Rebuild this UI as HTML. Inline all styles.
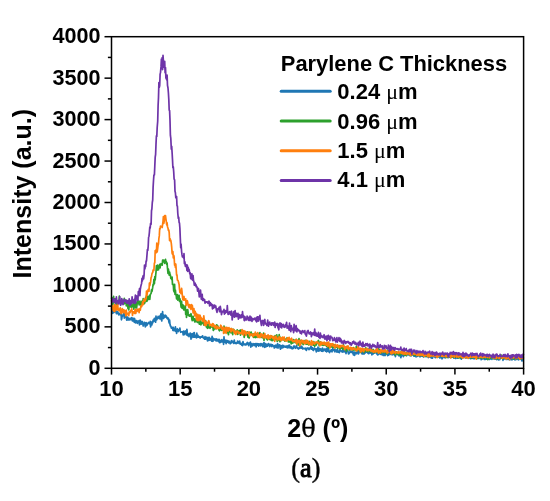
<!DOCTYPE html>
<html><head><meta charset="utf-8"><title>XRD</title>
<style>
html,body{margin:0;padding:0;background:#fff;}
svg{display:block;}
text{font-family:"Liberation Sans",sans-serif;fill:#000;}
.b20{font-size:22px;font-weight:bold;}
.b22{font-size:25px;font-weight:bold;}
.sym{font-family:"Liberation Serif",serif;font-weight:normal;}
.th{font-family:"DejaVu Serif",serif;font-weight:normal;font-size:24px;stroke:#000;stroke-width:0.3px;}
.cap{font-family:"Liberation Serif",serif;font-size:26.3px;stroke:#000;stroke-width:0.4px;}
.capa{stroke-width:0.9px;}
</style></head>
<body>
<svg width="550" height="501" viewBox="0 0 550 501">
<rect width="550" height="501" fill="#fff"/>
<polyline fill="none" stroke="#1f77b4" stroke-width="1.7" stroke-linejoin="round" points="111.5,309.6 111.9,308.8 112.3,309.9 112.7,313.3 113.1,309.2 113.6,310.2 114.0,312.3 114.4,310.3 114.8,310.9 115.2,311.2 115.6,311.9 116.0,311.1 116.4,313.7 116.9,312.8 117.3,313.6 117.7,311.7 118.1,313.0 118.5,313.8 118.9,314.9 119.3,314.1 119.7,313.8 120.2,314.5 120.6,311.7 121.0,312.5 121.4,319.8 121.8,318.4 122.2,315.4 122.6,316.0 123.0,315.0 123.5,315.2 123.9,311.9 124.3,318.1 124.7,316.9 125.1,312.6 125.5,315.4 125.9,315.6 126.3,317.9 126.7,320.2 127.2,317.0 127.6,317.3 128.0,320.0 128.4,319.1 128.8,318.2 129.2,320.0 129.6,318.6 130.0,318.4 130.5,318.7 130.9,319.8 131.3,318.0 131.7,317.6 132.1,318.8 132.5,321.0 132.9,318.4 133.3,320.8 133.8,318.4 134.2,322.1 134.6,318.7 135.0,320.5 135.4,322.9 135.8,321.4 136.2,320.8 136.6,320.6 137.1,323.0 137.5,323.3 137.9,321.2 138.3,322.5 138.7,321.4 139.1,320.6 139.5,325.0 139.9,321.8 140.3,320.2 140.8,323.0 141.2,324.1 141.6,321.5 142.0,322.5 142.4,321.6 142.8,323.9 143.2,326.0 143.6,323.7 144.1,324.4 144.5,322.4 144.9,323.6 145.3,326.8 145.7,326.1 146.1,322.6 146.5,323.0 146.9,325.3 147.4,324.2 147.8,323.4 148.2,323.3 148.6,322.5 149.0,323.4 149.4,323.8 149.8,323.9 150.2,321.4 150.6,327.0 151.1,323.1 151.5,322.5 151.9,324.9 152.3,321.5 152.7,323.0 153.1,320.1 153.5,321.5 153.9,319.8 154.4,318.4 154.8,319.6 155.2,321.4 155.6,322.2 156.0,316.0 156.4,319.0 156.8,319.8 157.2,318.0 157.7,318.4 158.1,316.3 158.5,317.5 158.9,317.4 159.3,318.5 159.7,316.1 160.1,318.8 160.5,315.5 161.0,313.8 161.4,319.4 161.8,321.0 162.2,315.2 162.6,311.5 163.0,318.1 163.4,318.5 163.8,315.0 164.2,317.6 164.7,317.0 165.1,316.8 165.5,315.2 165.9,317.1 166.3,316.0 166.7,317.0 167.1,318.5 167.5,317.7 168.0,319.2 168.4,318.2 168.8,321.5 169.2,323.0 169.6,320.2 170.0,324.5 170.4,325.9 170.8,326.0 171.3,328.1 171.7,328.1 172.1,327.3 172.5,327.8 172.9,330.4 173.3,327.3 173.7,329.8 174.1,330.7 174.6,330.6 175.0,329.9 175.4,326.8 175.8,331.5 176.2,329.5 176.6,333.3 177.0,330.0 177.4,328.7 177.8,330.7 178.3,331.5 178.7,330.3 179.1,329.7 179.5,329.9 179.9,328.0 180.3,330.9 180.7,332.3 181.1,331.8 181.6,331.8 182.0,331.7 182.4,332.0 182.8,331.9 183.2,334.9 183.6,331.1 184.0,333.4 184.4,334.5 184.9,331.9 185.3,331.0 185.7,332.4 186.1,333.1 186.5,334.9 186.9,329.3 187.3,332.5 187.7,335.7 188.2,335.3 188.6,334.1 189.0,336.7 189.4,334.3 189.8,335.4 190.2,333.0 190.6,333.5 191.0,339.1 191.4,335.0 191.9,337.6 192.3,333.6 192.7,335.1 193.1,334.6 193.5,337.1 193.9,332.8 194.3,332.6 194.7,337.2 195.2,335.2 195.6,336.8 196.0,335.9 196.4,337.8 196.8,333.2 197.2,337.4 197.6,336.5 198.0,335.4 198.5,337.1 198.9,336.6 199.3,337.1 199.7,336.6 200.1,338.1 200.5,337.1 200.9,336.9 201.3,337.2 201.7,336.7 202.2,337.3 202.6,335.8 203.0,337.5 203.4,337.3 203.8,338.2 204.2,338.1 204.6,339.2 205.0,336.7 205.5,339.2 205.9,338.7 206.3,337.2 206.7,337.3 207.1,338.5 207.5,340.9 207.9,337.5 208.3,337.8 208.8,340.3 209.2,337.3 209.6,339.4 210.0,340.1 210.4,338.5 210.8,338.9 211.2,338.5 211.6,341.1 212.1,336.4 212.5,339.9 212.9,341.3 213.3,338.3 213.7,339.8 214.1,338.9 214.5,339.9 214.9,339.6 215.3,339.2 215.8,340.7 216.2,338.8 216.6,340.4 217.0,341.1 217.4,339.8 217.8,339.4 218.2,340.4 218.6,341.3 219.1,339.4 219.5,342.7 219.9,341.8 220.3,340.4 220.7,342.3 221.1,340.5 221.5,340.7 221.9,339.5 222.4,342.0 222.8,341.7 223.2,340.4 223.6,344.3 224.0,336.8 224.4,342.0 224.8,342.1 225.2,340.0 225.7,341.3 226.1,343.7 226.5,340.5 226.9,340.3 227.3,342.1 227.7,341.9 228.1,341.0 228.5,342.9 228.9,341.2 229.4,341.5 229.8,342.8 230.2,343.8 230.6,342.3 231.0,343.2 231.4,340.7 231.8,341.9 232.2,341.1 232.7,342.1 233.1,341.9 233.5,343.4 233.9,341.5 234.3,340.1 234.7,342.9 235.1,343.3 235.5,342.8 236.0,343.3 236.4,343.6 236.8,342.6 237.2,343.2 237.6,341.0 238.0,342.9 238.4,342.5 238.8,341.7 239.3,343.4 239.7,341.2 240.1,343.9 240.5,344.2 240.9,343.7 241.3,343.4 241.7,345.1 242.1,343.4 242.5,345.6 243.0,341.6 243.4,343.6 243.8,344.4 244.2,344.7 244.6,344.1 245.0,343.9 245.4,345.0 245.8,344.9 246.3,344.0 246.7,344.5 247.1,342.7 247.5,342.4 247.9,343.9 248.3,343.4 248.7,345.7 249.1,343.2 249.6,344.1 250.0,343.5 250.4,342.1 250.8,347.1 251.2,343.9 251.6,345.7 252.0,343.6 252.4,346.0 252.9,345.0 253.3,344.2 253.7,343.7 254.1,344.4 254.5,345.5 254.9,345.3 255.3,343.5 255.7,344.6 256.1,346.8 256.6,343.6 257.0,344.2 257.4,343.6 257.8,345.2 258.2,343.8 258.6,346.2 259.0,344.1 259.4,345.5 259.9,344.1 260.3,343.7 260.7,345.9 261.1,345.1 261.5,345.0 261.9,343.6 262.3,344.2 262.7,346.6 263.2,344.6 263.6,344.2 264.0,342.5 264.4,347.3 264.8,345.9 265.2,343.6 265.6,347.0 266.0,346.8 266.4,344.7 266.9,344.1 267.3,346.2 267.7,344.7 268.1,345.3 268.5,343.6 268.9,345.5 269.3,344.3 269.7,346.7 270.2,345.8 270.6,345.7 271.0,344.2 271.4,345.0 271.8,346.6 272.2,344.9 272.6,344.8 273.0,345.9 273.5,346.1 273.9,346.1 274.3,348.0 274.7,345.7 275.1,345.7 275.5,347.0 275.9,345.1 276.3,347.7 276.8,346.8 277.2,346.7 277.6,343.7 278.0,348.1 278.4,345.5 278.8,345.1 279.2,345.8 279.6,344.9 280.0,347.6 280.5,349.2 280.9,345.5 281.3,347.9 281.7,346.9 282.1,348.0 282.5,345.3 282.9,345.6 283.3,347.5 283.8,345.6 284.2,346.6 284.6,346.9 285.0,346.7 285.4,347.1 285.8,346.1 286.2,346.5 286.6,347.4 287.1,345.8 287.5,347.8 287.9,346.7 288.3,346.6 288.7,345.4 289.1,347.8 289.5,345.1 289.9,347.0 290.4,347.5 290.8,348.1 291.2,346.7 291.6,347.3 292.0,348.7 292.4,348.8 292.8,348.2 293.2,348.4 293.6,346.3 294.1,346.0 294.5,346.6 294.9,347.3 295.3,348.3 295.7,347.7 296.1,346.8 296.5,345.4 296.9,346.8 297.4,348.3 297.8,347.9 298.2,348.6 298.6,349.0 299.0,348.3 299.4,347.9 299.8,346.0 300.2,348.1 300.7,346.6 301.1,346.2 301.5,348.2 301.9,346.5 302.3,347.5 302.7,348.9 303.1,348.1 303.5,348.4 304.0,348.7 304.4,348.7 304.8,348.4 305.2,348.1 305.6,349.6 306.0,348.6 306.4,350.4 306.8,348.4 307.2,348.0 307.7,348.6 308.1,348.4 308.5,348.1 308.9,349.6 309.3,349.1 309.7,348.3 310.1,347.8 310.5,348.5 311.0,346.1 311.4,349.1 311.8,347.9 312.2,347.6 312.6,349.2 313.0,350.1 313.4,350.5 313.8,349.0 314.3,348.0 314.7,348.9 315.1,349.1 315.5,349.7 315.9,348.7 316.3,351.8 316.7,349.1 317.1,349.4 317.5,351.0 318.0,347.0 318.4,351.1 318.8,350.8 319.2,350.9 319.6,348.4 320.0,350.6 320.4,348.9 320.8,349.0 321.3,349.4 321.7,351.2 322.1,350.5 322.5,348.0 322.9,351.3 323.3,350.8 323.7,350.1 324.1,349.1 324.6,349.7 325.0,349.2 325.4,351.2 325.8,349.0 326.2,349.5 326.6,351.9 327.0,348.5 327.4,347.7 327.9,351.1 328.3,350.2 328.7,348.8 329.1,352.0 329.5,352.6 329.9,351.8 330.3,351.1 330.7,351.1 331.1,349.8 331.6,350.2 332.0,351.9 332.4,350.0 332.8,348.6 333.2,349.4 333.6,349.6 334.0,350.7 334.4,349.7 334.9,351.8 335.3,350.0 335.7,350.9 336.1,349.7 336.5,350.4 336.9,352.1 337.3,350.8 337.7,349.7 338.2,352.2 338.6,351.7 339.0,351.9 339.4,352.7 339.8,350.1 340.2,349.8 340.6,350.4 341.0,351.0 341.5,351.3 341.9,351.1 342.3,352.1 342.7,350.4 343.1,350.3 343.5,350.4 343.9,352.0 344.3,351.4 344.7,351.7 345.2,349.7 345.6,351.4 346.0,353.6 346.4,351.2 346.8,349.7 347.2,351.0 347.6,350.8 348.0,351.7 348.5,353.9 348.9,353.7 349.3,353.1 349.7,352.0 350.1,351.6 350.5,351.2 350.9,352.3 351.3,351.0 351.8,352.3 352.2,352.8 352.6,351.1 353.0,353.0 353.4,354.9 353.8,353.2 354.2,352.0 354.6,355.4 355.1,352.5 355.5,352.5 355.9,353.7 356.3,353.8 356.7,352.7 357.1,352.8 357.5,351.0 357.9,351.9 358.3,354.0 358.8,353.2 359.2,351.6 359.6,350.4 360.0,352.0 360.4,352.1 360.8,350.5 361.2,352.5 361.6,352.8 362.1,353.9 362.5,353.0 362.9,350.3 363.3,354.0 363.7,352.5 364.1,354.0 364.5,352.4 364.9,351.7 365.4,352.9 365.8,351.9 366.2,351.9 366.6,352.2 367.0,350.9 367.4,351.9 367.8,353.0 368.2,353.4 368.7,353.6 369.1,352.3 369.5,353.1 369.9,350.0 370.3,350.9 370.7,353.0 371.1,353.2 371.5,351.1 371.9,354.8 372.4,353.3 372.8,351.9 373.2,353.8 373.6,353.4 374.0,353.3 374.4,352.3 374.8,352.8 375.2,352.6 375.7,352.4 376.1,353.0 376.5,351.9 376.9,353.8 377.3,354.5 377.7,354.9 378.1,354.7 378.5,353.7 379.0,352.1 379.4,353.0 379.8,353.8 380.2,354.3 380.6,353.7 381.0,353.6 381.4,353.8 381.8,354.7 382.2,353.7 382.7,352.2 383.1,355.5 383.5,353.5 383.9,355.4 384.3,353.2 384.7,354.1 385.1,355.5 385.5,353.3 386.0,351.6 386.4,353.3 386.8,352.3 387.2,353.5 387.6,355.6 388.0,353.0 388.4,353.9 388.8,355.0 389.3,352.8 389.7,353.3 390.1,354.1 390.5,352.8 390.9,354.5 391.3,353.0 391.7,354.6 392.1,353.2 392.6,354.8 393.0,352.3 393.4,353.5 393.8,352.4 394.2,354.6 394.6,354.3 395.0,353.1 395.4,356.6 395.8,355.0 396.3,353.0 396.7,353.5 397.1,353.1 397.5,354.3 397.9,353.5 398.3,354.8 398.7,355.5 399.1,355.8 399.6,354.7 400.0,354.7 400.4,354.8 400.8,357.7 401.2,356.2 401.6,354.8 402.0,354.1 402.4,354.9 402.9,355.2 403.3,356.6 403.7,352.5 404.1,355.5 404.5,352.9 404.9,353.0 405.3,354.3 405.7,355.1 406.2,354.5 406.6,355.7 407.0,354.4 407.4,354.7 407.8,354.2 408.2,353.8 408.6,353.1 409.0,355.2 409.4,353.8 409.9,355.6 410.3,355.7 410.7,355.5 411.1,355.8 411.5,354.0 411.9,354.1 412.3,353.8 412.7,355.0 413.2,354.8 413.6,355.6 414.0,356.2 414.4,354.7 414.8,354.9 415.2,356.2 415.6,354.7 416.0,356.9 416.5,355.4 416.9,355.9 417.3,355.8 417.7,356.3 418.1,354.5 418.5,354.8 418.9,354.3 419.3,355.3 419.8,356.7 420.2,355.8 420.6,356.6 421.0,355.1 421.4,354.4 421.8,355.3 422.2,356.2 422.6,356.0 423.0,355.5 423.5,357.0 423.9,355.6 424.3,355.5 424.7,356.2 425.1,356.1 425.5,355.6 425.9,356.6 426.3,356.6 426.8,355.1 427.2,355.7 427.6,354.4 428.0,356.8 428.4,357.6 428.8,355.1 429.2,355.1 429.6,356.7 430.1,357.3 430.5,356.1 430.9,357.6 431.3,356.4 431.7,358.1 432.1,356.3 432.5,358.1 432.9,356.4 433.4,354.8 433.8,356.4 434.2,355.5 434.6,356.8 435.0,357.1 435.4,357.6 435.8,355.4 436.2,356.4 436.6,354.9 437.1,357.4 437.5,356.6 437.9,356.3 438.3,355.1 438.7,354.8 439.1,357.0 439.5,357.5 439.9,358.0 440.4,355.3 440.8,356.6 441.2,357.1 441.6,356.6 442.0,358.8 442.4,358.1 442.8,355.8 443.2,356.3 443.7,356.5 444.1,357.5 444.5,356.2 444.9,355.1 445.3,357.8 445.7,356.7 446.1,357.1 446.5,356.4 446.9,356.8 447.4,356.9 447.8,357.6 448.2,356.8 448.6,357.4 449.0,357.0 449.4,356.9 449.8,356.3 450.2,357.4 450.7,357.2 451.1,356.0 451.5,357.1 451.9,357.2 452.3,356.2 452.7,356.8 453.1,356.9 453.5,356.8 454.0,358.1 454.4,356.7 454.8,355.9 455.2,356.6 455.6,358.5 456.0,356.9 456.4,357.9 456.8,357.3 457.3,357.1 457.7,358.2 458.1,356.0 458.5,357.3 458.9,356.5 459.3,356.7 459.7,356.1 460.1,356.2 460.5,358.5 461.0,357.3 461.4,359.1 461.8,357.7 462.2,356.7 462.6,356.6 463.0,356.3 463.4,357.7 463.8,357.1 464.3,357.3 464.7,356.3 465.1,356.1 465.5,357.8 465.9,354.2 466.3,357.5 466.7,357.8 467.1,357.0 467.6,356.9 468.0,357.1 468.4,358.1 468.8,356.3 469.2,357.5 469.6,356.3 470.0,356.4 470.4,358.7 470.9,358.4 471.3,358.5 471.7,357.4 472.1,357.6 472.5,357.4 472.9,358.4 473.3,357.3 473.7,356.5 474.1,358.8 474.6,357.9 475.0,357.5 475.4,357.9 475.8,357.9 476.2,356.3 476.6,356.7 477.0,357.1 477.4,358.5 477.9,356.0 478.3,357.6 478.7,358.4 479.1,358.2 479.5,358.3 479.9,356.1 480.3,357.7 480.7,357.9 481.2,359.7 481.6,357.3 482.0,358.9 482.4,358.9 482.8,357.5 483.2,358.7 483.6,357.3 484.0,357.1 484.5,359.5 484.9,358.2 485.3,359.4 485.7,358.1 486.1,357.3 486.5,359.2 486.9,356.6 487.3,358.4 487.7,359.1 488.2,358.3 488.6,357.5 489.0,359.3 489.4,358.2 489.8,359.3 490.2,357.2 490.6,358.1 491.0,358.6 491.5,357.4 491.9,359.3 492.3,358.6 492.7,356.8 493.1,358.4 493.5,357.2 493.9,358.2 494.3,358.9 494.8,358.6 495.2,358.3 495.6,358.7 496.0,359.1 496.4,359.1 496.8,359.6 497.2,358.4 497.6,358.1 498.0,357.9 498.5,359.9 498.9,357.8 499.3,358.5 499.7,359.7 500.1,358.4 500.5,357.9 500.9,358.1 501.3,358.0 501.8,357.8 502.2,357.9 502.6,358.6 503.0,360.3 503.4,359.2 503.8,358.3 504.2,359.0 504.6,358.1 505.1,358.0 505.5,358.6 505.9,357.2 506.3,359.5 506.7,358.0 507.1,359.1 507.5,359.3 507.9,358.3 508.4,359.2 508.8,358.1 509.2,359.7 509.6,358.7 510.0,359.5 510.4,359.0 510.8,359.1 511.2,359.7 511.6,358.3 512.1,359.8 512.5,359.6 512.9,358.2 513.3,358.1 513.7,358.3 514.1,358.6 514.5,357.1 514.9,359.9 515.4,359.5 515.8,359.7 516.2,358.2 516.6,358.7 517.0,358.1 517.4,358.2 517.8,359.2 518.2,359.6 518.7,359.8 519.1,357.3 519.5,358.3 519.9,358.6 520.3,359.3 520.7,359.2 521.1,359.3 521.5,359.3 522.0,361.0 522.4,359.1 522.8,359.4 523.2,358.9 523.6,358.9"/>
<polyline fill="none" stroke="#2ca02c" stroke-width="1.7" stroke-linejoin="round" points="111.5,297.7 111.9,299.7 112.3,298.0 112.7,305.3 113.1,302.3 113.6,296.3 114.0,302.7 114.4,300.8 114.8,298.8 115.2,302.3 115.6,299.0 116.0,303.7 116.4,304.8 116.9,303.6 117.3,304.4 117.7,301.1 118.1,301.8 118.5,300.5 118.9,303.5 119.3,296.0 119.7,301.7 120.2,301.7 120.6,300.8 121.0,302.3 121.4,303.2 121.8,301.8 122.2,300.2 122.6,300.8 123.0,300.3 123.5,303.6 123.9,304.1 124.3,298.4 124.7,303.2 125.1,301.8 125.5,301.4 125.9,300.0 126.3,305.9 126.7,304.2 127.2,304.3 127.6,304.1 128.0,308.6 128.4,303.9 128.8,309.9 129.2,303.4 129.6,303.0 130.0,303.0 130.5,306.8 130.9,302.4 131.3,306.3 131.7,307.1 132.1,306.7 132.5,306.5 132.9,304.5 133.3,303.2 133.8,309.2 134.2,306.0 134.6,303.0 135.0,304.4 135.4,303.8 135.8,307.9 136.2,302.7 136.6,307.8 137.1,304.1 137.5,301.5 137.9,300.3 138.3,303.0 138.7,302.1 139.1,305.0 139.5,304.6 139.9,301.0 140.3,303.2 140.8,303.3 141.2,305.8 141.6,302.4 142.0,301.2 142.4,304.0 142.8,303.2 143.2,298.6 143.6,301.3 144.1,302.1 144.5,303.6 144.9,302.3 145.3,301.2 145.7,297.4 146.1,301.3 146.5,295.8 146.9,301.3 147.4,299.7 147.8,296.7 148.2,298.6 148.6,299.4 149.0,297.3 149.4,295.4 149.8,299.4 150.2,295.3 150.6,294.0 151.1,293.5 151.5,289.8 151.9,291.5 152.3,289.7 152.7,287.4 153.1,284.3 153.5,285.0 153.9,279.3 154.4,283.6 154.8,276.7 155.2,280.0 155.6,275.9 156.0,272.1 156.4,265.7 156.8,267.3 157.2,270.1 157.7,265.2 158.1,268.7 158.5,269.8 158.9,266.3 159.3,266.9 159.7,264.4 160.1,267.9 160.5,265.0 161.0,263.7 161.4,264.0 161.8,264.1 162.2,265.2 162.6,260.2 163.0,261.6 163.4,260.0 163.8,261.9 164.2,260.6 164.7,263.3 165.1,260.6 165.5,259.4 165.9,262.3 166.3,261.5 166.7,264.4 167.1,263.1 167.5,268.5 168.0,273.4 168.4,269.2 168.8,271.9 169.2,275.2 169.6,272.2 170.0,274.4 170.4,275.2 170.8,278.4 171.3,278.3 171.7,279.4 172.1,277.1 172.5,284.4 172.9,284.1 173.3,284.6 173.7,290.8 174.1,291.8 174.6,284.3 175.0,294.5 175.4,290.2 175.8,294.5 176.2,295.3 176.6,298.9 177.0,297.4 177.4,294.6 177.8,300.2 178.3,296.7 178.7,298.1 179.1,295.3 179.5,301.5 179.9,298.6 180.3,300.2 180.7,303.5 181.1,307.2 181.6,301.4 182.0,308.1 182.4,307.0 182.8,304.9 183.2,305.2 183.6,309.8 184.0,308.8 184.4,309.9 184.9,307.6 185.3,305.5 185.7,314.5 186.1,309.6 186.5,317.5 186.9,312.4 187.3,315.0 187.7,309.5 188.2,313.4 188.6,315.6 189.0,315.5 189.4,316.1 189.8,315.0 190.2,316.1 190.6,314.9 191.0,313.7 191.4,315.6 191.9,319.5 192.3,320.6 192.7,319.3 193.1,316.3 193.5,319.2 193.9,320.1 194.3,318.9 194.7,322.0 195.2,321.8 195.6,319.1 196.0,320.8 196.4,321.4 196.8,320.2 197.2,322.1 197.6,322.5 198.0,322.3 198.5,320.6 198.9,321.8 199.3,324.2 199.7,322.8 200.1,321.4 200.5,319.4 200.9,324.9 201.3,322.5 201.7,323.7 202.2,322.0 202.6,322.8 203.0,321.2 203.4,323.0 203.8,325.0 204.2,325.2 204.6,323.7 205.0,323.9 205.5,320.6 205.9,322.0 206.3,327.0 206.7,324.6 207.1,327.6 207.5,328.3 207.9,324.4 208.3,324.8 208.8,327.7 209.2,323.3 209.6,327.8 210.0,328.3 210.4,325.4 210.8,326.2 211.2,327.0 211.6,327.0 212.1,326.6 212.5,327.3 212.9,327.5 213.3,330.5 213.7,329.7 214.1,326.6 214.5,328.9 214.9,326.9 215.3,325.9 215.8,328.6 216.2,327.7 216.6,324.8 217.0,327.2 217.4,325.4 217.8,326.1 218.2,327.4 218.6,328.9 219.1,330.2 219.5,330.8 219.9,328.3 220.3,328.4 220.7,329.5 221.1,328.0 221.5,330.4 221.9,327.7 222.4,329.5 222.8,329.8 223.2,329.8 223.6,330.0 224.0,326.0 224.4,332.6 224.8,329.9 225.2,328.2 225.7,329.2 226.1,330.9 226.5,327.7 226.9,332.3 227.3,332.7 227.7,329.8 228.1,333.1 228.5,334.7 228.9,329.6 229.4,329.8 229.8,330.0 230.2,332.0 230.6,331.0 231.0,332.9 231.4,328.7 231.8,330.2 232.2,330.4 232.7,334.7 233.1,330.4 233.5,329.4 233.9,329.9 234.3,330.7 234.7,332.0 235.1,332.6 235.5,331.2 236.0,331.6 236.4,331.9 236.8,332.8 237.2,329.8 237.6,334.3 238.0,332.6 238.4,333.5 238.8,331.1 239.3,330.5 239.7,330.9 240.1,331.7 240.5,335.1 240.9,329.8 241.3,332.3 241.7,333.3 242.1,333.2 242.5,333.8 243.0,332.7 243.4,332.9 243.8,334.0 244.2,337.5 244.6,333.7 245.0,332.9 245.4,332.9 245.8,334.0 246.3,333.2 246.7,332.4 247.1,334.7 247.5,331.8 247.9,337.1 248.3,336.1 248.7,335.6 249.1,338.0 249.6,335.9 250.0,332.6 250.4,332.6 250.8,334.4 251.2,332.1 251.6,334.3 252.0,335.5 252.4,334.5 252.9,335.1 253.3,333.9 253.7,337.3 254.1,333.6 254.5,335.8 254.9,334.0 255.3,337.6 255.7,336.0 256.1,335.3 256.6,334.2 257.0,337.4 257.4,333.2 257.8,335.0 258.2,336.5 258.6,334.0 259.0,335.7 259.4,334.3 259.9,332.6 260.3,335.0 260.7,336.9 261.1,336.9 261.5,335.5 261.9,336.0 262.3,337.7 262.7,337.5 263.2,335.6 263.6,333.2 264.0,340.5 264.4,335.7 264.8,337.1 265.2,335.8 265.6,335.7 266.0,337.0 266.4,338.6 266.9,339.2 267.3,339.9 267.7,335.5 268.1,337.7 268.5,338.2 268.9,337.9 269.3,339.5 269.7,337.2 270.2,335.8 270.6,336.1 271.0,340.1 271.4,335.9 271.8,339.0 272.2,340.7 272.6,339.8 273.0,339.5 273.5,338.2 273.9,339.7 274.3,340.4 274.7,338.7 275.1,335.7 275.5,339.5 275.9,337.9 276.3,338.5 276.8,334.9 277.2,341.4 277.6,337.2 278.0,340.6 278.4,339.7 278.8,339.1 279.2,334.5 279.6,340.1 280.0,341.7 280.5,337.3 280.9,340.4 281.3,339.6 281.7,339.4 282.1,339.2 282.5,339.7 282.9,339.1 283.3,339.0 283.8,338.4 284.2,340.2 284.6,340.7 285.0,341.2 285.4,339.0 285.8,339.9 286.2,339.2 286.6,339.2 287.1,337.7 287.5,339.8 287.9,339.1 288.3,341.9 288.7,341.7 289.1,340.7 289.5,342.0 289.9,339.5 290.4,342.3 290.8,340.4 291.2,343.9 291.6,342.1 292.0,341.2 292.4,341.1 292.8,343.2 293.2,340.7 293.6,339.6 294.1,340.1 294.5,341.9 294.9,341.9 295.3,342.7 295.7,340.3 296.1,339.3 296.5,342.0 296.9,343.6 297.4,341.1 297.8,340.5 298.2,345.1 298.6,341.4 299.0,338.7 299.4,340.6 299.8,341.0 300.2,341.2 300.7,340.4 301.1,343.1 301.5,343.0 301.9,341.4 302.3,342.9 302.7,341.7 303.1,344.7 303.5,341.2 304.0,341.1 304.4,342.2 304.8,342.1 305.2,340.3 305.6,343.9 306.0,343.7 306.4,344.0 306.8,343.2 307.2,344.0 307.7,342.7 308.1,343.6 308.5,344.7 308.9,344.9 309.3,341.3 309.7,343.1 310.1,343.3 310.5,343.1 311.0,343.3 311.4,342.2 311.8,342.5 312.2,344.1 312.6,344.4 313.0,344.8 313.4,345.1 313.8,341.7 314.3,344.8 314.7,346.2 315.1,344.8 315.5,344.8 315.9,343.4 316.3,345.0 316.7,343.2 317.1,343.5 317.5,342.4 318.0,341.3 318.4,340.5 318.8,342.5 319.2,345.7 319.6,344.8 320.0,344.1 320.4,341.8 320.8,343.7 321.3,343.1 321.7,344.9 322.1,344.0 322.5,343.9 322.9,345.4 323.3,343.9 323.7,343.6 324.1,345.2 324.6,343.8 325.0,343.1 325.4,345.1 325.8,345.3 326.2,345.7 326.6,346.2 327.0,345.3 327.4,346.0 327.9,346.0 328.3,346.6 328.7,347.6 329.1,346.9 329.5,345.4 329.9,347.3 330.3,346.7 330.7,344.0 331.1,344.7 331.6,347.0 332.0,345.5 332.4,347.1 332.8,344.3 333.2,347.1 333.6,346.4 334.0,344.8 334.4,347.6 334.9,345.1 335.3,347.7 335.7,346.5 336.1,347.2 336.5,347.0 336.9,346.7 337.3,347.1 337.7,348.3 338.2,346.1 338.6,346.3 339.0,345.7 339.4,345.6 339.8,348.9 340.2,345.9 340.6,345.9 341.0,348.1 341.5,346.3 341.9,345.9 342.3,348.3 342.7,349.3 343.1,348.2 343.5,344.5 343.9,347.6 344.3,349.3 344.7,348.3 345.2,349.2 345.6,348.5 346.0,348.0 346.4,351.1 346.8,347.8 347.2,346.6 347.6,348.5 348.0,348.8 348.5,347.1 348.9,349.9 349.3,349.9 349.7,350.1 350.1,348.7 350.5,348.2 350.9,348.8 351.3,348.1 351.8,347.8 352.2,348.2 352.6,349.7 353.0,349.2 353.4,347.5 353.8,350.1 354.2,349.3 354.6,349.5 355.1,349.3 355.5,350.3 355.9,350.7 356.3,346.3 356.7,348.2 357.1,350.1 357.5,349.4 357.9,348.6 358.3,349.8 358.8,348.8 359.2,350.2 359.6,349.9 360.0,349.7 360.4,350.1 360.8,352.4 361.2,349.7 361.6,349.4 362.1,349.2 362.5,350.9 362.9,349.5 363.3,349.7 363.7,351.9 364.1,352.4 364.5,349.5 364.9,351.1 365.4,349.0 365.8,347.8 366.2,350.8 366.6,351.0 367.0,350.3 367.4,349.5 367.8,351.6 368.2,349.0 368.7,349.3 369.1,349.7 369.5,351.1 369.9,349.5 370.3,349.6 370.7,351.9 371.1,348.3 371.5,351.0 371.9,350.3 372.4,351.3 372.8,350.3 373.2,349.5 373.6,351.7 374.0,352.7 374.4,351.4 374.8,352.3 375.2,351.8 375.7,351.1 376.1,351.1 376.5,349.7 376.9,352.2 377.3,350.8 377.7,351.7 378.1,349.8 378.5,348.6 379.0,351.0 379.4,349.5 379.8,351.9 380.2,353.1 380.6,352.8 381.0,353.1 381.4,352.5 381.8,351.8 382.2,350.4 382.7,350.9 383.1,351.1 383.5,352.1 383.9,352.5 384.3,351.7 384.7,351.6 385.1,351.5 385.5,351.5 386.0,352.0 386.4,353.9 386.8,353.1 387.2,352.8 387.6,350.2 388.0,352.5 388.4,351.4 388.8,350.6 389.3,351.8 389.7,352.6 390.1,352.5 390.5,353.3 390.9,352.0 391.3,351.2 391.7,351.8 392.1,351.6 392.6,351.7 393.0,350.4 393.4,353.2 393.8,352.4 394.2,351.8 394.6,351.3 395.0,355.1 395.4,353.2 395.8,352.9 396.3,353.8 396.7,351.9 397.1,352.6 397.5,353.3 397.9,354.5 398.3,354.3 398.7,354.0 399.1,352.5 399.6,354.3 400.0,355.2 400.4,354.6 400.8,353.7 401.2,351.5 401.6,350.7 402.0,353.7 402.4,352.3 402.9,351.9 403.3,352.0 403.7,353.5 404.1,354.7 404.5,353.9 404.9,355.3 405.3,353.3 405.7,352.8 406.2,355.5 406.6,353.7 407.0,353.3 407.4,352.4 407.8,352.3 408.2,352.9 408.6,354.4 409.0,354.2 409.4,352.6 409.9,354.5 410.3,353.9 410.7,352.4 411.1,353.8 411.5,355.3 411.9,354.3 412.3,353.4 412.7,354.3 413.2,353.0 413.6,352.9 414.0,354.8 414.4,354.7 414.8,354.3 415.2,355.4 415.6,353.9 416.0,354.5 416.5,353.6 416.9,355.0 417.3,355.3 417.7,352.7 418.1,355.3 418.5,355.1 418.9,355.2 419.3,354.8 419.8,355.5 420.2,354.6 420.6,355.3 421.0,355.1 421.4,354.3 421.8,354.0 422.2,354.3 422.6,355.5 423.0,354.4 423.5,354.9 423.9,354.9 424.3,356.5 424.7,354.2 425.1,355.0 425.5,353.3 425.9,354.3 426.3,356.0 426.8,356.3 427.2,353.9 427.6,355.9 428.0,354.4 428.4,355.4 428.8,353.1 429.2,355.1 429.6,353.7 430.1,353.9 430.5,355.6 430.9,355.5 431.3,353.8 431.7,355.2 432.1,356.1 432.5,354.2 432.9,352.9 433.4,355.4 433.8,354.0 434.2,355.5 434.6,354.1 435.0,355.6 435.4,354.2 435.8,354.9 436.2,355.6 436.6,355.2 437.1,356.0 437.5,356.5 437.9,356.5 438.3,355.6 438.7,356.5 439.1,355.1 439.5,355.1 439.9,355.2 440.4,356.1 440.8,355.6 441.2,355.7 441.6,354.4 442.0,356.4 442.4,356.0 442.8,355.9 443.2,355.9 443.7,356.4 444.1,356.3 444.5,354.8 444.9,356.4 445.3,355.0 445.7,354.0 446.1,354.7 446.5,357.5 446.9,355.2 447.4,355.5 447.8,355.4 448.2,357.4 448.6,355.2 449.0,356.9 449.4,354.8 449.8,355.0 450.2,353.7 450.7,356.4 451.1,357.4 451.5,355.1 451.9,355.3 452.3,356.4 452.7,354.9 453.1,355.5 453.5,357.3 454.0,356.5 454.4,356.6 454.8,356.3 455.2,356.0 455.6,356.8 456.0,356.4 456.4,355.7 456.8,356.3 457.3,356.5 457.7,356.6 458.1,356.4 458.5,358.0 458.9,356.2 459.3,357.3 459.7,356.3 460.1,357.7 460.5,355.6 461.0,356.2 461.4,357.6 461.8,356.2 462.2,357.1 462.6,354.8 463.0,356.0 463.4,357.2 463.8,356.3 464.3,356.5 464.7,355.5 465.1,356.2 465.5,356.1 465.9,357.5 466.3,355.9 466.7,354.7 467.1,356.0 467.6,356.6 468.0,356.5 468.4,357.5 468.8,356.5 469.2,357.6 469.6,356.6 470.0,357.0 470.4,357.4 470.9,356.2 471.3,358.0 471.7,356.8 472.1,357.9 472.5,355.1 472.9,355.0 473.3,356.0 473.7,355.1 474.1,356.3 474.6,356.3 475.0,357.2 475.4,357.6 475.8,356.7 476.2,357.3 476.6,357.3 477.0,356.2 477.4,357.0 477.9,358.3 478.3,357.1 478.7,357.6 479.1,357.2 479.5,357.9 479.9,355.9 480.3,355.3 480.7,358.0 481.2,356.4 481.6,356.5 482.0,358.0 482.4,357.0 482.8,355.8 483.2,356.3 483.6,355.7 484.0,358.1 484.5,357.7 484.9,356.9 485.3,356.8 485.7,357.1 486.1,357.5 486.5,357.5 486.9,357.7 487.3,356.8 487.7,359.6 488.2,355.8 488.6,357.7 489.0,358.5 489.4,356.8 489.8,358.5 490.2,356.9 490.6,357.6 491.0,356.8 491.5,356.6 491.9,356.2 492.3,357.8 492.7,357.6 493.1,357.4 493.5,358.6 493.9,356.9 494.3,357.3 494.8,358.5 495.2,356.4 495.6,356.3 496.0,358.6 496.4,357.0 496.8,356.4 497.2,356.7 497.6,358.3 498.0,358.7 498.5,357.6 498.9,357.9 499.3,357.5 499.7,357.6 500.1,357.1 500.5,358.0 500.9,357.7 501.3,355.0 501.8,357.7 502.2,357.0 502.6,357.3 503.0,357.4 503.4,358.4 503.8,357.2 504.2,357.7 504.6,357.0 505.1,355.9 505.5,357.5 505.9,357.0 506.3,358.5 506.7,357.6 507.1,356.4 507.5,357.8 507.9,358.3 508.4,357.6 508.8,357.9 509.2,357.9 509.6,358.1 510.0,356.1 510.4,358.5 510.8,358.1 511.2,358.3 511.6,356.8 512.1,358.0 512.5,356.7 512.9,357.7 513.3,357.8 513.7,359.1 514.1,356.8 514.5,357.4 514.9,357.5 515.4,358.0 515.8,358.2 516.2,358.9 516.6,357.1 517.0,357.7 517.4,358.2 517.8,358.4 518.2,357.8 518.7,358.0 519.1,356.6 519.5,357.3 519.9,358.4 520.3,358.9 520.7,358.2 521.1,358.7 521.5,357.9 522.0,357.6 522.4,357.5 522.8,357.6 523.2,358.2 523.6,357.5"/>
<polyline fill="none" stroke="#ff7f0e" stroke-width="1.7" stroke-linejoin="round" points="111.5,308.8 111.9,307.3 112.3,305.7 112.7,306.9 113.1,310.3 113.6,310.2 114.0,311.3 114.4,304.6 114.8,311.5 115.2,308.8 115.6,305.0 116.0,306.7 116.4,306.4 116.9,310.2 117.3,307.9 117.7,303.5 118.1,309.8 118.5,309.0 118.9,310.6 119.3,310.2 119.7,309.6 120.2,307.8 120.6,312.4 121.0,313.6 121.4,311.0 121.8,310.8 122.2,308.6 122.6,310.1 123.0,312.8 123.5,310.7 123.9,309.7 124.3,311.5 124.7,312.8 125.1,310.9 125.5,313.0 125.9,316.0 126.3,310.0 126.7,315.1 127.2,313.3 127.6,313.4 128.0,313.5 128.4,313.4 128.8,315.6 129.2,311.8 129.6,312.8 130.0,312.7 130.5,310.7 130.9,310.6 131.3,310.0 131.7,308.9 132.1,311.5 132.5,315.3 132.9,311.8 133.3,312.1 133.8,311.8 134.2,313.0 134.6,313.4 135.0,310.0 135.4,309.5 135.8,313.4 136.2,310.0 136.6,311.2 137.1,311.4 137.5,309.0 137.9,310.1 138.3,310.7 138.7,309.1 139.1,312.7 139.5,309.5 139.9,308.7 140.3,310.1 140.8,306.4 141.2,305.6 141.6,306.8 142.0,305.4 142.4,303.0 142.8,301.5 143.2,304.6 143.6,301.5 144.1,299.1 144.5,300.5 144.9,301.2 145.3,300.2 145.7,298.3 146.1,298.8 146.5,291.0 146.9,295.7 147.4,292.4 147.8,291.7 148.2,289.4 148.6,290.5 149.0,291.2 149.4,283.0 149.8,285.5 150.2,283.5 150.6,281.7 151.1,277.4 151.5,276.8 151.9,274.0 152.3,272.9 152.7,272.6 153.1,270.0 153.5,269.9 153.9,270.3 154.4,263.0 154.8,262.8 155.2,250.5 155.6,251.0 156.0,249.9 156.4,252.6 156.8,243.2 157.2,251.9 157.7,248.5 158.1,245.2 158.5,243.7 158.9,238.3 159.3,235.9 159.7,228.5 160.1,229.0 160.5,226.2 161.0,226.6 161.4,226.4 161.8,226.4 162.2,227.5 162.6,224.3 163.0,221.5 163.4,216.6 163.8,223.3 164.2,221.4 164.7,215.7 165.1,219.5 165.5,215.5 165.9,218.8 166.3,221.3 166.7,224.8 167.1,222.9 167.5,226.7 168.0,228.2 168.4,230.3 168.8,230.0 169.2,232.6 169.6,240.7 170.0,238.7 170.4,239.6 170.8,240.3 171.3,243.4 171.7,247.2 172.1,253.1 172.5,254.1 172.9,251.5 173.3,258.0 173.7,255.3 174.1,256.8 174.6,265.2 175.0,263.5 175.4,267.3 175.8,264.1 176.2,269.5 176.6,275.1 177.0,274.9 177.4,280.2 177.8,280.2 178.3,281.2 178.7,283.1 179.1,284.4 179.5,288.8 179.9,292.5 180.3,290.4 180.7,292.8 181.1,293.6 181.6,288.4 182.0,291.7 182.4,295.8 182.8,299.5 183.2,300.1 183.6,297.3 184.0,296.5 184.4,300.1 184.9,299.8 185.3,300.0 185.7,298.8 186.1,305.5 186.5,301.6 186.9,301.5 187.3,300.7 187.7,302.3 188.2,305.8 188.6,305.2 189.0,307.6 189.4,304.6 189.8,305.1 190.2,305.0 190.6,308.5 191.0,309.4 191.4,304.6 191.9,307.8 192.3,305.3 192.7,308.5 193.1,312.8 193.5,308.9 193.9,308.6 194.3,312.5 194.7,315.9 195.2,311.4 195.6,313.5 196.0,313.2 196.4,319.4 196.8,314.0 197.2,320.6 197.6,317.5 198.0,314.7 198.5,320.2 198.9,320.7 199.3,318.5 199.7,315.0 200.1,315.4 200.5,319.8 200.9,317.2 201.3,318.2 201.7,319.1 202.2,319.1 202.6,321.3 203.0,318.8 203.4,318.6 203.8,315.9 204.2,319.3 204.6,325.5 205.0,323.5 205.5,321.0 205.9,321.7 206.3,325.3 206.7,322.5 207.1,323.1 207.5,322.7 207.9,323.1 208.3,321.5 208.8,320.7 209.2,322.3 209.6,325.6 210.0,325.4 210.4,325.2 210.8,324.4 211.2,325.2 211.6,325.3 212.1,326.5 212.5,323.5 212.9,323.9 213.3,323.9 213.7,325.8 214.1,325.1 214.5,327.6 214.9,327.9 215.3,327.3 215.8,325.6 216.2,327.0 216.6,328.8 217.0,326.9 217.4,326.5 217.8,327.0 218.2,328.5 218.6,327.5 219.1,328.4 219.5,328.4 219.9,328.1 220.3,326.8 220.7,325.2 221.1,325.8 221.5,327.4 221.9,329.2 222.4,329.2 222.8,329.2 223.2,327.0 223.6,333.5 224.0,328.7 224.4,332.5 224.8,329.4 225.2,327.3 225.7,331.0 226.1,333.3 226.5,327.7 226.9,327.5 227.3,329.2 227.7,328.1 228.1,331.4 228.5,328.4 228.9,327.6 229.4,329.4 229.8,330.1 230.2,328.6 230.6,328.9 231.0,332.0 231.4,328.7 231.8,329.8 232.2,330.8 232.7,329.1 233.1,329.8 233.5,330.1 233.9,332.2 234.3,330.2 234.7,333.3 235.1,331.8 235.5,334.4 236.0,334.4 236.4,331.2 236.8,332.0 237.2,331.9 237.6,331.1 238.0,331.6 238.4,333.6 238.8,332.1 239.3,332.4 239.7,333.2 240.1,332.6 240.5,333.1 240.9,333.6 241.3,333.2 241.7,332.3 242.1,329.6 242.5,334.1 243.0,332.1 243.4,335.2 243.8,330.5 244.2,333.5 244.6,332.9 245.0,331.2 245.4,331.7 245.8,335.5 246.3,332.4 246.7,333.7 247.1,332.5 247.5,333.2 247.9,332.4 248.3,333.1 248.7,333.8 249.1,331.9 249.6,336.1 250.0,334.4 250.4,335.3 250.8,334.1 251.2,334.6 251.6,334.2 252.0,334.8 252.4,334.8 252.9,336.7 253.3,334.3 253.7,333.8 254.1,335.3 254.5,335.4 254.9,335.4 255.3,332.0 255.7,334.3 256.1,334.1 256.6,335.2 257.0,335.5 257.4,336.2 257.8,332.6 258.2,337.5 258.6,334.6 259.0,335.2 259.4,335.6 259.9,337.6 260.3,337.2 260.7,333.9 261.1,336.5 261.5,334.2 261.9,334.6 262.3,334.8 262.7,334.6 263.2,337.6 263.6,336.6 264.0,334.9 264.4,337.9 264.8,333.6 265.2,337.0 265.6,336.3 266.0,337.8 266.4,335.8 266.9,337.5 267.3,336.8 267.7,338.2 268.1,334.9 268.5,339.1 268.9,336.1 269.3,336.5 269.7,336.2 270.2,338.4 270.6,335.5 271.0,335.7 271.4,336.9 271.8,336.7 272.2,337.5 272.6,336.4 273.0,338.6 273.5,336.6 273.9,336.9 274.3,339.6 274.7,341.4 275.1,337.8 275.5,338.0 275.9,336.0 276.3,337.8 276.8,338.6 277.2,339.9 277.6,338.1 278.0,338.9 278.4,339.7 278.8,338.3 279.2,336.7 279.6,338.2 280.0,339.8 280.5,337.9 280.9,340.0 281.3,340.7 281.7,337.9 282.1,339.4 282.5,337.1 282.9,338.3 283.3,339.9 283.8,338.5 284.2,337.1 284.6,339.2 285.0,340.5 285.4,340.0 285.8,340.3 286.2,340.8 286.6,341.0 287.1,338.7 287.5,337.8 287.9,339.9 288.3,338.4 288.7,338.3 289.1,337.3 289.5,339.9 289.9,340.2 290.4,339.2 290.8,339.7 291.2,339.5 291.6,338.2 292.0,340.7 292.4,339.9 292.8,341.6 293.2,340.5 293.6,341.3 294.1,341.5 294.5,340.9 294.9,341.3 295.3,340.3 295.7,339.8 296.1,343.0 296.5,339.7 296.9,344.1 297.4,340.9 297.8,340.3 298.2,342.2 298.6,341.7 299.0,342.5 299.4,340.3 299.8,345.9 300.2,343.0 300.7,344.3 301.1,341.5 301.5,340.1 301.9,340.3 302.3,341.0 302.7,341.6 303.1,343.0 303.5,340.5 304.0,341.3 304.4,343.3 304.8,343.9 305.2,343.1 305.6,340.9 306.0,340.7 306.4,340.2 306.8,343.4 307.2,342.9 307.7,340.7 308.1,342.2 308.5,341.6 308.9,344.3 309.3,343.1 309.7,342.7 310.1,343.2 310.5,343.3 311.0,344.9 311.4,340.7 311.8,342.7 312.2,344.8 312.6,341.5 313.0,342.9 313.4,342.1 313.8,343.3 314.3,344.1 314.7,344.1 315.1,342.7 315.5,342.2 315.9,342.6 316.3,342.5 316.7,341.8 317.1,343.0 317.5,342.1 318.0,342.1 318.4,343.2 318.8,343.7 319.2,344.2 319.6,345.2 320.0,345.7 320.4,342.1 320.8,343.9 321.3,344.6 321.7,342.0 322.1,342.8 322.5,344.0 322.9,342.9 323.3,344.4 323.7,343.8 324.1,342.0 324.6,343.0 325.0,344.8 325.4,343.6 325.8,343.1 326.2,344.8 326.6,345.2 327.0,342.4 327.4,345.2 327.9,346.5 328.3,344.8 328.7,342.1 329.1,344.3 329.5,343.9 329.9,347.9 330.3,345.9 330.7,343.8 331.1,345.8 331.6,343.8 332.0,344.9 332.4,345.0 332.8,343.5 333.2,346.3 333.6,346.3 334.0,345.6 334.4,345.6 334.9,348.0 335.3,344.4 335.7,345.7 336.1,346.3 336.5,345.4 336.9,346.7 337.3,344.8 337.7,346.2 338.2,345.5 338.6,347.5 339.0,346.8 339.4,346.1 339.8,347.7 340.2,347.4 340.6,346.8 341.0,345.4 341.5,345.9 341.9,345.8 342.3,346.6 342.7,345.9 343.1,345.2 343.5,346.9 343.9,346.7 344.3,346.5 344.7,349.7 345.2,347.5 345.6,346.9 346.0,346.6 346.4,347.9 346.8,346.4 347.2,348.4 347.6,347.9 348.0,345.8 348.5,349.4 348.9,347.9 349.3,348.1 349.7,348.1 350.1,348.6 350.5,347.3 350.9,349.4 351.3,349.7 351.8,347.7 352.2,349.7 352.6,347.9 353.0,348.4 353.4,349.2 353.8,348.9 354.2,348.6 354.6,348.1 355.1,349.4 355.5,348.9 355.9,350.4 356.3,349.1 356.7,351.0 357.1,348.9 357.5,349.5 357.9,346.6 358.3,347.6 358.8,349.3 359.2,348.1 359.6,348.9 360.0,350.5 360.4,352.0 360.8,348.1 361.2,349.0 361.6,351.6 362.1,348.8 362.5,348.5 362.9,350.3 363.3,348.7 363.7,351.6 364.1,350.0 364.5,349.7 364.9,348.9 365.4,349.4 365.8,349.6 366.2,349.3 366.6,350.7 367.0,348.4 367.4,350.4 367.8,349.2 368.2,350.1 368.7,350.5 369.1,349.6 369.5,349.8 369.9,348.8 370.3,349.2 370.7,351.0 371.1,349.9 371.5,350.3 371.9,351.4 372.4,351.7 372.8,350.3 373.2,351.2 373.6,352.1 374.0,350.8 374.4,350.4 374.8,350.6 375.2,352.1 375.7,351.4 376.1,349.3 376.5,351.7 376.9,351.2 377.3,348.4 377.7,350.5 378.1,351.5 378.5,353.1 379.0,350.7 379.4,352.5 379.8,351.1 380.2,352.0 380.6,352.9 381.0,349.4 381.4,351.3 381.8,350.2 382.2,350.4 382.7,352.0 383.1,351.2 383.5,351.7 383.9,350.3 384.3,350.9 384.7,351.8 385.1,349.6 385.5,350.9 386.0,351.0 386.4,352.3 386.8,351.1 387.2,353.1 387.6,351.1 388.0,352.6 388.4,351.4 388.8,352.0 389.3,351.4 389.7,351.3 390.1,351.8 390.5,351.8 390.9,353.4 391.3,353.8 391.7,350.6 392.1,351.3 392.6,353.5 393.0,350.0 393.4,352.8 393.8,351.5 394.2,351.6 394.6,352.0 395.0,351.5 395.4,353.6 395.8,352.2 396.3,352.5 396.7,352.2 397.1,352.6 397.5,353.0 397.9,353.1 398.3,351.5 398.7,353.3 399.1,352.1 399.6,352.2 400.0,352.6 400.4,352.1 400.8,352.1 401.2,353.2 401.6,352.3 402.0,350.8 402.4,353.8 402.9,353.1 403.3,353.6 403.7,350.8 404.1,354.3 404.5,352.9 404.9,352.0 405.3,353.9 405.7,353.2 406.2,353.8 406.6,354.5 407.0,353.2 407.4,352.7 407.8,353.6 408.2,353.1 408.6,352.6 409.0,352.1 409.4,354.6 409.9,352.8 410.3,354.1 410.7,355.4 411.1,354.3 411.5,352.9 411.9,353.3 412.3,354.7 412.7,352.1 413.2,353.3 413.6,353.8 414.0,354.3 414.4,353.4 414.8,354.2 415.2,352.8 415.6,353.6 416.0,353.4 416.5,354.3 416.9,355.5 417.3,353.6 417.7,355.1 418.1,354.2 418.5,354.2 418.9,355.0 419.3,353.4 419.8,355.6 420.2,352.9 420.6,354.9 421.0,353.4 421.4,353.1 421.8,355.3 422.2,355.2 422.6,353.6 423.0,354.3 423.5,354.5 423.9,356.3 424.3,356.2 424.7,354.1 425.1,353.3 425.5,355.3 425.9,355.5 426.3,354.5 426.8,354.3 427.2,354.2 427.6,355.2 428.0,356.7 428.4,353.5 428.8,355.3 429.2,353.7 429.6,356.8 430.1,354.6 430.5,355.4 430.9,356.0 431.3,354.1 431.7,353.8 432.1,355.6 432.5,354.4 432.9,356.1 433.4,355.7 433.8,355.3 434.2,355.5 434.6,354.6 435.0,356.3 435.4,354.3 435.8,354.3 436.2,355.4 436.6,356.4 437.1,357.5 437.5,355.4 437.9,356.0 438.3,355.2 438.7,356.3 439.1,355.4 439.5,355.4 439.9,355.4 440.4,355.2 440.8,355.2 441.2,354.6 441.6,356.2 442.0,354.8 442.4,355.4 442.8,355.9 443.2,356.5 443.7,354.2 444.1,355.4 444.5,356.1 444.9,355.6 445.3,355.6 445.7,356.1 446.1,356.9 446.5,355.5 446.9,355.9 447.4,356.0 447.8,354.8 448.2,356.9 448.6,356.6 449.0,355.6 449.4,355.0 449.8,355.3 450.2,355.2 450.7,357.8 451.1,355.4 451.5,355.5 451.9,355.3 452.3,356.5 452.7,355.5 453.1,355.0 453.5,354.5 454.0,355.7 454.4,357.2 454.8,355.9 455.2,355.4 455.6,355.6 456.0,354.3 456.4,356.2 456.8,357.0 457.3,356.6 457.7,355.5 458.1,356.8 458.5,357.1 458.9,356.9 459.3,355.1 459.7,355.9 460.1,356.5 460.5,355.4 461.0,355.6 461.4,357.1 461.8,355.5 462.2,356.0 462.6,358.1 463.0,357.3 463.4,356.0 463.8,355.9 464.3,356.6 464.7,357.2 465.1,356.1 465.5,358.0 465.9,355.9 466.3,356.5 466.7,356.4 467.1,357.0 467.6,355.7 468.0,358.5 468.4,357.2 468.8,355.9 469.2,357.1 469.6,355.2 470.0,356.1 470.4,357.2 470.9,355.5 471.3,356.6 471.7,356.0 472.1,357.1 472.5,357.1 472.9,355.9 473.3,356.5 473.7,357.2 474.1,357.3 474.6,356.0 475.0,355.1 475.4,357.3 475.8,356.0 476.2,359.2 476.6,357.8 477.0,356.1 477.4,355.3 477.9,356.6 478.3,356.2 478.7,356.5 479.1,355.8 479.5,357.7 479.9,356.2 480.3,357.1 480.7,357.0 481.2,356.8 481.6,356.9 482.0,357.4 482.4,357.0 482.8,357.6 483.2,355.5 483.6,356.2 484.0,357.2 484.5,355.5 484.9,355.7 485.3,356.4 485.7,357.3 486.1,356.7 486.5,356.4 486.9,355.7 487.3,357.1 487.7,357.4 488.2,355.0 488.6,355.8 489.0,356.7 489.4,357.8 489.8,356.6 490.2,356.0 490.6,356.4 491.0,356.3 491.5,357.0 491.9,356.1 492.3,357.6 492.7,357.4 493.1,357.5 493.5,357.6 493.9,355.4 494.3,358.5 494.8,356.9 495.2,358.0 495.6,358.2 496.0,357.1 496.4,358.5 496.8,357.2 497.2,355.2 497.6,357.3 498.0,356.8 498.5,357.9 498.9,356.8 499.3,358.5 499.7,357.1 500.1,357.3 500.5,355.4 500.9,357.3 501.3,357.6 501.8,357.8 502.2,358.3 502.6,356.7 503.0,356.1 503.4,357.6 503.8,356.7 504.2,357.6 504.6,357.0 505.1,357.0 505.5,358.6 505.9,358.0 506.3,356.6 506.7,359.0 507.1,357.4 507.5,357.7 507.9,358.2 508.4,357.4 508.8,357.2 509.2,357.0 509.6,359.7 510.0,356.0 510.4,357.9 510.8,356.6 511.2,357.6 511.6,358.0 512.1,357.6 512.5,354.8 512.9,356.2 513.3,357.8 513.7,357.3 514.1,356.6 514.5,357.1 514.9,357.5 515.4,357.7 515.8,358.5 516.2,356.9 516.6,356.7 517.0,355.7 517.4,358.1 517.8,357.1 518.2,357.6 518.7,356.6 519.1,357.7 519.5,358.2 519.9,359.1 520.3,357.0 520.7,357.5 521.1,356.7 521.5,358.1 522.0,355.5 522.4,358.3 522.8,357.2 523.2,357.3 523.6,356.8"/>
<polyline fill="none" stroke="#6e34a8" stroke-width="1.7" stroke-linejoin="round" points="111.5,300.3 111.9,302.0 112.3,302.2 112.7,298.3 113.1,299.9 113.6,299.4 114.0,301.9 114.4,299.9 114.8,299.8 115.2,299.0 115.6,303.5 116.0,302.1 116.4,296.8 116.9,301.4 117.3,300.8 117.7,301.5 118.1,303.9 118.5,303.0 118.9,300.0 119.3,302.3 119.7,296.7 120.2,304.3 120.6,305.3 121.0,302.1 121.4,303.9 121.8,298.6 122.2,302.5 122.6,300.6 123.0,304.7 123.5,300.4 123.9,300.5 124.3,299.3 124.7,301.5 125.1,300.9 125.5,301.6 125.9,300.0 126.3,302.9 126.7,300.8 127.2,303.2 127.6,300.5 128.0,302.6 128.4,303.4 128.8,303.4 129.2,298.9 129.6,305.3 130.0,305.1 130.5,300.7 130.9,304.1 131.3,302.9 131.7,302.9 132.1,296.9 132.5,302.9 132.9,302.8 133.3,301.9 133.8,300.3 134.2,299.4 134.6,303.3 135.0,298.9 135.4,295.2 135.8,302.8 136.2,297.1 136.6,296.0 137.1,296.6 137.5,296.5 137.9,300.5 138.3,291.7 138.7,294.2 139.1,293.0 139.5,288.7 139.9,295.7 140.3,289.3 140.8,286.4 141.2,284.7 141.6,283.4 142.0,278.4 142.4,280.8 142.8,277.1 143.2,275.6 143.6,279.0 144.1,274.9 144.5,265.2 144.9,268.8 145.3,265.8 145.7,266.5 146.1,261.1 146.5,260.9 146.9,256.0 147.4,249.6 147.8,250.3 148.2,246.3 148.6,237.2 149.0,236.2 149.4,232.4 149.8,227.1 150.2,227.9 150.6,223.3 151.1,224.2 151.5,210.7 151.9,208.8 152.3,202.5 152.7,200.0 153.1,187.4 153.5,180.5 153.9,175.1 154.4,174.9 154.8,166.0 155.2,157.1 155.6,154.5 156.0,144.1 156.4,135.8 156.8,136.4 157.2,127.3 157.7,121.3 158.1,105.5 158.5,97.5 158.9,82.5 159.3,87.4 159.7,85.5 160.1,74.1 160.5,72.6 161.0,66.9 161.4,59.0 161.8,63.7 162.2,57.6 162.6,69.6 163.0,55.4 163.4,60.8 163.8,64.0 164.2,67.3 164.7,61.3 165.1,72.8 165.5,67.6 165.9,78.1 166.3,78.4 166.7,79.8 167.1,75.2 167.5,85.3 168.0,88.0 168.4,92.7 168.8,99.4 169.2,110.2 169.6,110.6 170.0,120.1 170.4,135.4 170.8,138.2 171.3,149.1 171.7,146.3 172.1,152.5 172.5,159.6 172.9,167.8 173.3,166.7 173.7,171.8 174.1,179.0 174.6,179.9 175.0,191.3 175.4,192.7 175.8,197.8 176.2,198.0 176.6,196.6 177.0,205.8 177.4,206.0 177.8,213.5 178.3,218.3 178.7,217.3 179.1,222.3 179.5,223.2 179.9,228.4 180.3,238.1 180.7,247.8 181.1,244.2 181.6,251.6 182.0,254.7 182.4,256.9 182.8,256.4 183.2,256.9 183.6,257.8 184.0,253.7 184.4,263.7 184.9,261.7 185.3,266.1 185.7,266.5 186.1,264.7 186.5,264.9 186.9,270.4 187.3,265.1 187.7,271.4 188.2,267.4 188.6,270.9 189.0,269.3 189.4,271.0 189.8,274.0 190.2,272.8 190.6,278.2 191.0,278.9 191.4,277.3 191.9,273.8 192.3,279.8 192.7,280.3 193.1,275.6 193.5,280.5 193.9,281.6 194.3,285.1 194.7,283.4 195.2,283.2 195.6,285.8 196.0,284.9 196.4,287.0 196.8,286.4 197.2,287.9 197.6,291.1 198.0,289.7 198.5,288.5 198.9,292.7 199.3,296.8 199.7,294.3 200.1,295.7 200.5,290.1 200.9,294.6 201.3,299.2 201.7,297.6 202.2,294.4 202.6,300.5 203.0,299.4 203.4,298.7 203.8,299.3 204.2,300.7 204.6,299.5 205.0,303.1 205.5,301.7 205.9,302.1 206.3,301.8 206.7,302.1 207.1,301.8 207.5,302.8 207.9,303.3 208.3,302.0 208.8,301.2 209.2,301.3 209.6,306.0 210.0,303.4 210.4,302.7 210.8,305.1 211.2,303.8 211.6,305.5 212.1,304.6 212.5,308.8 212.9,305.0 213.3,307.2 213.7,308.0 214.1,307.4 214.5,305.0 214.9,305.4 215.3,307.1 215.8,306.1 216.2,309.0 216.6,310.9 217.0,312.4 217.4,308.9 217.8,309.4 218.2,309.2 218.6,309.4 219.1,307.3 219.5,311.7 219.9,311.6 220.3,306.4 220.7,308.9 221.1,311.1 221.5,314.7 221.9,312.5 222.4,311.7 222.8,311.3 223.2,310.9 223.6,311.9 224.0,309.4 224.4,314.1 224.8,312.4 225.2,313.3 225.7,310.7 226.1,312.0 226.5,310.9 226.9,312.4 227.3,305.5 227.7,311.5 228.1,314.5 228.5,313.2 228.9,314.1 229.4,312.0 229.8,311.7 230.2,313.0 230.6,314.2 231.0,315.2 231.4,311.0 231.8,312.1 232.2,319.9 232.7,314.3 233.1,316.2 233.5,315.4 233.9,311.6 234.3,317.1 234.7,317.1 235.1,310.6 235.5,316.2 236.0,315.9 236.4,313.4 236.8,316.6 237.2,315.7 237.6,315.4 238.0,313.4 238.4,319.1 238.8,317.8 239.3,316.6 239.7,314.7 240.1,317.8 240.5,315.8 240.9,317.7 241.3,317.6 241.7,314.6 242.1,317.5 242.5,311.7 243.0,316.7 243.4,315.3 243.8,316.2 244.2,320.5 244.6,320.6 245.0,316.9 245.4,320.0 245.8,319.1 246.3,318.8 246.7,319.9 247.1,316.2 247.5,317.0 247.9,318.2 248.3,317.6 248.7,320.4 249.1,317.3 249.6,320.5 250.0,316.2 250.4,320.4 250.8,320.2 251.2,317.2 251.6,318.3 252.0,321.3 252.4,318.5 252.9,319.7 253.3,319.8 253.7,318.8 254.1,318.9 254.5,318.2 254.9,319.3 255.3,319.7 255.7,320.5 256.1,317.8 256.6,321.9 257.0,317.2 257.4,316.8 257.8,316.9 258.2,321.1 258.6,317.2 259.0,319.0 259.4,319.2 259.9,315.3 260.3,320.9 260.7,320.3 261.1,323.7 261.5,325.5 261.9,321.1 262.3,320.9 262.7,320.5 263.2,321.3 263.6,325.4 264.0,321.3 264.4,320.1 264.8,319.4 265.2,323.9 265.6,323.9 266.0,323.6 266.4,323.6 266.9,325.4 267.3,323.8 267.7,320.0 268.1,324.7 268.5,326.2 268.9,323.5 269.3,323.9 269.7,322.0 270.2,324.5 270.6,323.6 271.0,324.9 271.4,325.2 271.8,322.9 272.2,323.4 272.6,323.8 273.0,322.9 273.5,325.3 273.9,324.0 274.3,323.7 274.7,322.1 275.1,327.5 275.5,324.9 275.9,323.6 276.3,325.5 276.8,324.4 277.2,323.5 277.6,323.9 278.0,327.8 278.4,327.0 278.8,329.8 279.2,323.9 279.6,324.8 280.0,322.9 280.5,325.2 280.9,327.3 281.3,323.7 281.7,327.8 282.1,325.7 282.5,326.1 282.9,324.5 283.3,324.4 283.8,326.7 284.2,327.3 284.6,326.3 285.0,327.2 285.4,324.8 285.8,325.8 286.2,324.2 286.6,322.3 287.1,328.2 287.5,327.8 287.9,326.1 288.3,326.4 288.7,327.7 289.1,330.1 289.5,323.1 289.9,327.3 290.4,329.5 290.8,331.7 291.2,325.5 291.6,327.4 292.0,328.1 292.4,329.9 292.8,328.5 293.2,329.1 293.6,332.7 294.1,324.4 294.5,328.2 294.9,329.7 295.3,330.8 295.7,330.4 296.1,325.6 296.5,329.1 296.9,332.0 297.4,328.6 297.8,329.4 298.2,329.5 298.6,330.7 299.0,330.9 299.4,330.4 299.8,331.2 300.2,333.2 300.7,332.7 301.1,331.2 301.5,333.8 301.9,331.6 302.3,332.0 302.7,330.5 303.1,331.5 303.5,332.3 304.0,332.4 304.4,331.3 304.8,330.6 305.2,333.9 305.6,334.7 306.0,333.6 306.4,336.1 306.8,333.8 307.2,331.4 307.7,331.2 308.1,330.5 308.5,332.8 308.9,332.8 309.3,334.0 309.7,334.0 310.1,332.8 310.5,332.0 311.0,332.8 311.4,336.7 311.8,332.9 312.2,333.7 312.6,334.7 313.0,333.7 313.4,332.6 313.8,333.9 314.3,335.3 314.7,329.1 315.1,335.3 315.5,333.7 315.9,332.6 316.3,335.9 316.7,333.9 317.1,336.1 317.5,335.3 318.0,336.1 318.4,332.4 318.8,337.3 319.2,334.5 319.6,335.3 320.0,338.5 320.4,333.0 320.8,336.6 321.3,336.2 321.7,335.6 322.1,337.4 322.5,337.3 322.9,336.3 323.3,337.6 323.7,336.3 324.1,334.7 324.6,338.1 325.0,339.1 325.4,337.0 325.8,336.4 326.2,336.1 326.6,338.8 327.0,340.7 327.4,336.1 327.9,336.4 328.3,335.4 328.7,339.1 329.1,337.0 329.5,336.4 329.9,340.6 330.3,336.6 330.7,336.1 331.1,337.5 331.6,337.6 332.0,337.4 332.4,339.0 332.8,340.7 333.2,340.1 333.6,339.1 334.0,340.2 334.4,337.6 334.9,339.7 335.3,339.4 335.7,341.8 336.1,338.9 336.5,340.5 336.9,337.5 337.3,342.1 337.7,339.4 338.2,340.5 338.6,340.5 339.0,337.7 339.4,338.8 339.8,341.4 340.2,338.4 340.6,341.3 341.0,339.4 341.5,343.0 341.9,341.1 342.3,341.2 342.7,341.3 343.1,343.1 343.5,343.6 343.9,341.2 344.3,340.4 344.7,341.3 345.2,341.8 345.6,343.5 346.0,341.9 346.4,342.4 346.8,342.7 347.2,341.6 347.6,341.6 348.0,341.4 348.5,342.4 348.9,343.2 349.3,342.5 349.7,342.7 350.1,344.5 350.5,342.9 350.9,344.7 351.3,345.2 351.8,343.7 352.2,343.6 352.6,341.9 353.0,343.3 353.4,342.3 353.8,341.2 354.2,342.9 354.6,342.7 355.1,344.1 355.5,342.3 355.9,343.3 356.3,343.4 356.7,345.0 357.1,344.8 357.5,344.5 357.9,343.6 358.3,342.4 358.8,345.8 359.2,344.4 359.6,344.4 360.0,341.2 360.4,344.4 360.8,344.9 361.2,343.3 361.6,345.8 362.1,343.7 362.5,346.6 362.9,342.0 363.3,344.7 363.7,345.2 364.1,346.4 364.5,345.0 364.9,344.8 365.4,345.8 365.8,343.5 366.2,345.5 366.6,345.0 367.0,344.8 367.4,343.5 367.8,345.8 368.2,345.3 368.7,345.1 369.1,344.7 369.5,347.8 369.9,344.2 370.3,345.8 370.7,346.6 371.1,345.8 371.5,348.2 371.9,346.8 372.4,345.7 372.8,344.3 373.2,346.1 373.6,345.6 374.0,346.5 374.4,345.1 374.8,346.7 375.2,345.7 375.7,346.7 376.1,347.6 376.5,347.6 376.9,347.3 377.3,345.1 377.7,342.7 378.1,346.9 378.5,347.6 379.0,346.1 379.4,346.2 379.8,347.5 380.2,344.6 380.6,345.9 381.0,345.8 381.4,346.9 381.8,346.9 382.2,345.9 382.7,348.8 383.1,348.1 383.5,347.1 383.9,349.0 384.3,345.4 384.7,348.1 385.1,347.9 385.5,347.1 386.0,345.7 386.4,347.6 386.8,348.5 387.2,348.8 387.6,347.4 388.0,348.4 388.4,345.0 388.8,346.4 389.3,351.6 389.7,349.0 390.1,347.6 390.5,345.3 390.9,350.4 391.3,348.7 391.7,346.8 392.1,349.0 392.6,348.2 393.0,348.9 393.4,347.6 393.8,349.7 394.2,348.5 394.6,350.2 395.0,347.5 395.4,348.0 395.8,348.8 396.3,348.7 396.7,348.8 397.1,349.3 397.5,348.7 397.9,348.6 398.3,349.1 398.7,349.8 399.1,349.6 399.6,349.7 400.0,348.7 400.4,349.1 400.8,347.1 401.2,349.6 401.6,349.4 402.0,350.2 402.4,349.4 402.9,350.1 403.3,350.6 403.7,349.5 404.1,348.0 404.5,350.8 404.9,350.6 405.3,350.0 405.7,349.7 406.2,348.6 406.6,350.9 407.0,350.4 407.4,351.1 407.8,351.3 408.2,350.9 408.6,351.7 409.0,350.0 409.4,349.4 409.9,351.2 410.3,351.5 410.7,349.3 411.1,351.0 411.5,349.3 411.9,354.1 412.3,351.2 412.7,352.2 413.2,351.7 413.6,350.3 414.0,350.1 414.4,351.5 414.8,350.3 415.2,352.6 415.6,351.2 416.0,351.7 416.5,353.4 416.9,350.7 417.3,352.4 417.7,351.3 418.1,352.6 418.5,351.7 418.9,351.2 419.3,351.9 419.8,352.5 420.2,351.4 420.6,351.9 421.0,352.6 421.4,352.1 421.8,352.3 422.2,352.6 422.6,351.4 423.0,350.6 423.5,352.9 423.9,352.6 424.3,353.4 424.7,353.9 425.1,351.4 425.5,353.3 425.9,352.3 426.3,354.0 426.8,353.3 427.2,352.2 427.6,352.3 428.0,352.5 428.4,352.4 428.8,352.6 429.2,351.8 429.6,351.2 430.1,352.3 430.5,353.0 430.9,354.0 431.3,353.5 431.7,353.3 432.1,351.6 432.5,354.6 432.9,353.9 433.4,354.2 433.8,352.3 434.2,353.9 434.6,355.0 435.0,355.3 435.4,352.9 435.8,354.9 436.2,352.2 436.6,352.2 437.1,354.5 437.5,353.7 437.9,353.4 438.3,354.9 438.7,354.7 439.1,354.1 439.5,353.5 439.9,353.2 440.4,355.4 440.8,353.3 441.2,353.7 441.6,353.9 442.0,354.1 442.4,352.6 442.8,352.1 443.2,354.1 443.7,353.9 444.1,355.3 444.5,354.1 444.9,353.1 445.3,353.9 445.7,353.4 446.1,353.9 446.5,353.7 446.9,353.2 447.4,353.1 447.8,355.8 448.2,354.1 448.6,356.8 449.0,353.9 449.4,354.5 449.8,354.5 450.2,352.4 450.7,353.6 451.1,352.9 451.5,353.4 451.9,352.4 452.3,354.3 452.7,354.3 453.1,354.1 453.5,351.7 454.0,354.5 454.4,354.1 454.8,352.8 455.2,353.2 455.6,354.6 456.0,352.5 456.4,353.7 456.8,352.8 457.3,353.6 457.7,353.5 458.1,355.0 458.5,352.9 458.9,355.0 459.3,354.2 459.7,353.2 460.1,354.6 460.5,354.2 461.0,354.3 461.4,354.2 461.8,353.8 462.2,355.8 462.6,354.9 463.0,352.4 463.4,356.3 463.8,355.1 464.3,353.7 464.7,356.3 465.1,355.3 465.5,355.3 465.9,353.0 466.3,355.4 466.7,353.9 467.1,355.2 467.6,354.6 468.0,355.7 468.4,356.0 468.8,355.1 469.2,356.0 469.6,354.8 470.0,354.6 470.4,354.3 470.9,353.2 471.3,353.4 471.7,355.8 472.1,355.5 472.5,353.1 472.9,354.8 473.3,355.2 473.7,353.8 474.1,355.4 474.6,353.9 475.0,355.1 475.4,353.6 475.8,355.0 476.2,354.1 476.6,353.9 477.0,353.4 477.4,355.7 477.9,355.3 478.3,356.3 478.7,356.6 479.1,355.5 479.5,354.8 479.9,353.8 480.3,355.4 480.7,353.2 481.2,354.9 481.6,354.2 482.0,355.3 482.4,356.3 482.8,353.6 483.2,355.4 483.6,354.1 484.0,355.5 484.5,354.6 484.9,355.3 485.3,355.5 485.7,355.3 486.1,354.6 486.5,356.4 486.9,356.2 487.3,354.3 487.7,356.0 488.2,355.1 488.6,356.6 489.0,355.5 489.4,354.3 489.8,355.3 490.2,355.2 490.6,355.7 491.0,355.3 491.5,357.1 491.9,356.9 492.3,355.0 492.7,357.1 493.1,354.2 493.5,354.7 493.9,356.6 494.3,357.5 494.8,357.8 495.2,355.2 495.6,355.6 496.0,354.3 496.4,355.1 496.8,354.1 497.2,354.8 497.6,356.5 498.0,355.8 498.5,356.4 498.9,355.9 499.3,356.1 499.7,355.9 500.1,354.4 500.5,356.2 500.9,356.8 501.3,356.3 501.8,356.2 502.2,356.3 502.6,355.9 503.0,356.1 503.4,354.7 503.8,354.9 504.2,356.5 504.6,354.9 505.1,354.5 505.5,355.8 505.9,356.6 506.3,355.4 506.7,355.9 507.1,355.5 507.5,356.8 507.9,353.9 508.4,356.1 508.8,355.4 509.2,356.4 509.6,355.8 510.0,358.0 510.4,357.1 510.8,358.2 511.2,355.0 511.6,357.2 512.1,357.4 512.5,354.9 512.9,356.4 513.3,356.1 513.7,355.0 514.1,355.5 514.5,355.7 514.9,355.4 515.4,357.8 515.8,354.9 516.2,354.8 516.6,354.4 517.0,358.0 517.4,356.8 517.8,356.6 518.2,354.5 518.7,355.6 519.1,354.5 519.5,355.7 519.9,356.7 520.3,357.3 520.7,356.6 521.1,354.9 521.5,356.9 522.0,357.8 522.4,355.9 522.8,354.9 523.2,354.0 523.6,355.0"/>
<rect x="111.50" y="36.70" width="412.10" height="331.60" fill="none" stroke="#000" stroke-width="1.5"/>
<line x1="104.50" y1="368.30" x2="111.50" y2="368.30" stroke="#000" stroke-width="1.5"/>
<line x1="107.90" y1="347.57" x2="111.50" y2="347.57" stroke="#000" stroke-width="1.5"/>
<line x1="104.50" y1="326.85" x2="111.50" y2="326.85" stroke="#000" stroke-width="1.5"/>
<line x1="107.90" y1="306.12" x2="111.50" y2="306.12" stroke="#000" stroke-width="1.5"/>
<line x1="104.50" y1="285.40" x2="111.50" y2="285.40" stroke="#000" stroke-width="1.5"/>
<line x1="107.90" y1="264.68" x2="111.50" y2="264.68" stroke="#000" stroke-width="1.5"/>
<line x1="104.50" y1="243.95" x2="111.50" y2="243.95" stroke="#000" stroke-width="1.5"/>
<line x1="107.90" y1="223.22" x2="111.50" y2="223.22" stroke="#000" stroke-width="1.5"/>
<line x1="104.50" y1="202.50" x2="111.50" y2="202.50" stroke="#000" stroke-width="1.5"/>
<line x1="107.90" y1="181.78" x2="111.50" y2="181.78" stroke="#000" stroke-width="1.5"/>
<line x1="104.50" y1="161.05" x2="111.50" y2="161.05" stroke="#000" stroke-width="1.5"/>
<line x1="107.90" y1="140.32" x2="111.50" y2="140.32" stroke="#000" stroke-width="1.5"/>
<line x1="104.50" y1="119.60" x2="111.50" y2="119.60" stroke="#000" stroke-width="1.5"/>
<line x1="107.90" y1="98.88" x2="111.50" y2="98.88" stroke="#000" stroke-width="1.5"/>
<line x1="104.50" y1="78.15" x2="111.50" y2="78.15" stroke="#000" stroke-width="1.5"/>
<line x1="107.90" y1="57.43" x2="111.50" y2="57.43" stroke="#000" stroke-width="1.5"/>
<line x1="104.50" y1="36.70" x2="111.50" y2="36.70" stroke="#000" stroke-width="1.5"/>
<line x1="111.50" y1="368.30" x2="111.50" y2="374.60" stroke="#000" stroke-width="1.5"/>
<line x1="145.84" y1="368.30" x2="145.84" y2="371.70" stroke="#000" stroke-width="1.5"/>
<line x1="180.18" y1="368.30" x2="180.18" y2="374.60" stroke="#000" stroke-width="1.5"/>
<line x1="214.53" y1="368.30" x2="214.53" y2="371.70" stroke="#000" stroke-width="1.5"/>
<line x1="248.87" y1="368.30" x2="248.87" y2="374.60" stroke="#000" stroke-width="1.5"/>
<line x1="283.21" y1="368.30" x2="283.21" y2="371.70" stroke="#000" stroke-width="1.5"/>
<line x1="317.55" y1="368.30" x2="317.55" y2="374.60" stroke="#000" stroke-width="1.5"/>
<line x1="351.89" y1="368.30" x2="351.89" y2="371.70" stroke="#000" stroke-width="1.5"/>
<line x1="386.23" y1="368.30" x2="386.23" y2="374.60" stroke="#000" stroke-width="1.5"/>
<line x1="420.58" y1="368.30" x2="420.58" y2="371.70" stroke="#000" stroke-width="1.5"/>
<line x1="454.92" y1="368.30" x2="454.92" y2="374.60" stroke="#000" stroke-width="1.5"/>
<line x1="489.26" y1="368.30" x2="489.26" y2="371.70" stroke="#000" stroke-width="1.5"/>
<line x1="523.60" y1="368.30" x2="523.60" y2="374.60" stroke="#000" stroke-width="1.5"/>
<text x="100.6" y="374.80" text-anchor="end" class="b20" style="font-size:21.6px">0</text>
<text x="100.6" y="333.35" text-anchor="end" class="b20" style="font-size:21.6px">500</text>
<text x="100.6" y="291.90" text-anchor="end" class="b20" style="font-size:21.6px">1000</text>
<text x="100.6" y="250.45" text-anchor="end" class="b20" style="font-size:21.6px">1500</text>
<text x="100.6" y="209.00" text-anchor="end" class="b20" style="font-size:21.6px">2000</text>
<text x="100.6" y="167.55" text-anchor="end" class="b20" style="font-size:21.6px">2500</text>
<text x="100.6" y="126.10" text-anchor="end" class="b20" style="font-size:21.6px">3000</text>
<text x="100.6" y="84.65" text-anchor="end" class="b20" style="font-size:21.6px">3500</text>
<text x="100.6" y="43.20" text-anchor="end" class="b20" style="font-size:21.6px">4000</text>
<text x="111.50" y="395.6" text-anchor="middle" class="b20">10</text>
<text x="180.18" y="395.6" text-anchor="middle" class="b20">15</text>
<text x="248.87" y="395.6" text-anchor="middle" class="b20">20</text>
<text x="317.55" y="395.6" text-anchor="middle" class="b20">25</text>
<text x="386.23" y="395.6" text-anchor="middle" class="b20">30</text>
<text x="454.92" y="395.6" text-anchor="middle" class="b20">35</text>
<text x="523.60" y="395.6" text-anchor="middle" class="b20">40</text>
<text x="317.8" y="436.5" text-anchor="middle" class="b22">2<tspan class="th">θ</tspan> (º)</text>
<text transform="translate(31,193.7) rotate(-90)" text-anchor="middle" class="b22">Intensity (a.u.)</text>
<text x="280.8" y="70.5" class="b20" style="font-size:21.9px">Parylene C Thickness</text>
<line x1="281.2" y1="91.30" x2="330.2" y2="91.30" stroke="#1f77b4" stroke-width="3" stroke-linecap="round"/>
<text x="337.3" y="99.15" class="b20">0.24 <tspan class="sym">μ</tspan>m</text>
<line x1="281.2" y1="121.03" x2="330.2" y2="121.03" stroke="#2ca02c" stroke-width="3" stroke-linecap="round"/>
<text x="337.3" y="128.55" class="b20">0.96 <tspan class="sym">μ</tspan>m</text>
<line x1="281.2" y1="150.76" x2="330.2" y2="150.76" stroke="#ff7f0e" stroke-width="3" stroke-linecap="round"/>
<text x="337.3" y="157.95" class="b20">1.5 <tspan class="sym">μ</tspan>m</text>
<line x1="281.2" y1="180.49" x2="330.2" y2="180.49" stroke="#6e34a8" stroke-width="3" stroke-linecap="round"/>
<text x="337.3" y="187.35" class="b20">4.1 <tspan class="sym">μ</tspan>m</text>
<text x="305.8" y="476.8" text-anchor="middle" class="cap">(<tspan class="capa">a</tspan>)</text>
</svg>
</body></html>
